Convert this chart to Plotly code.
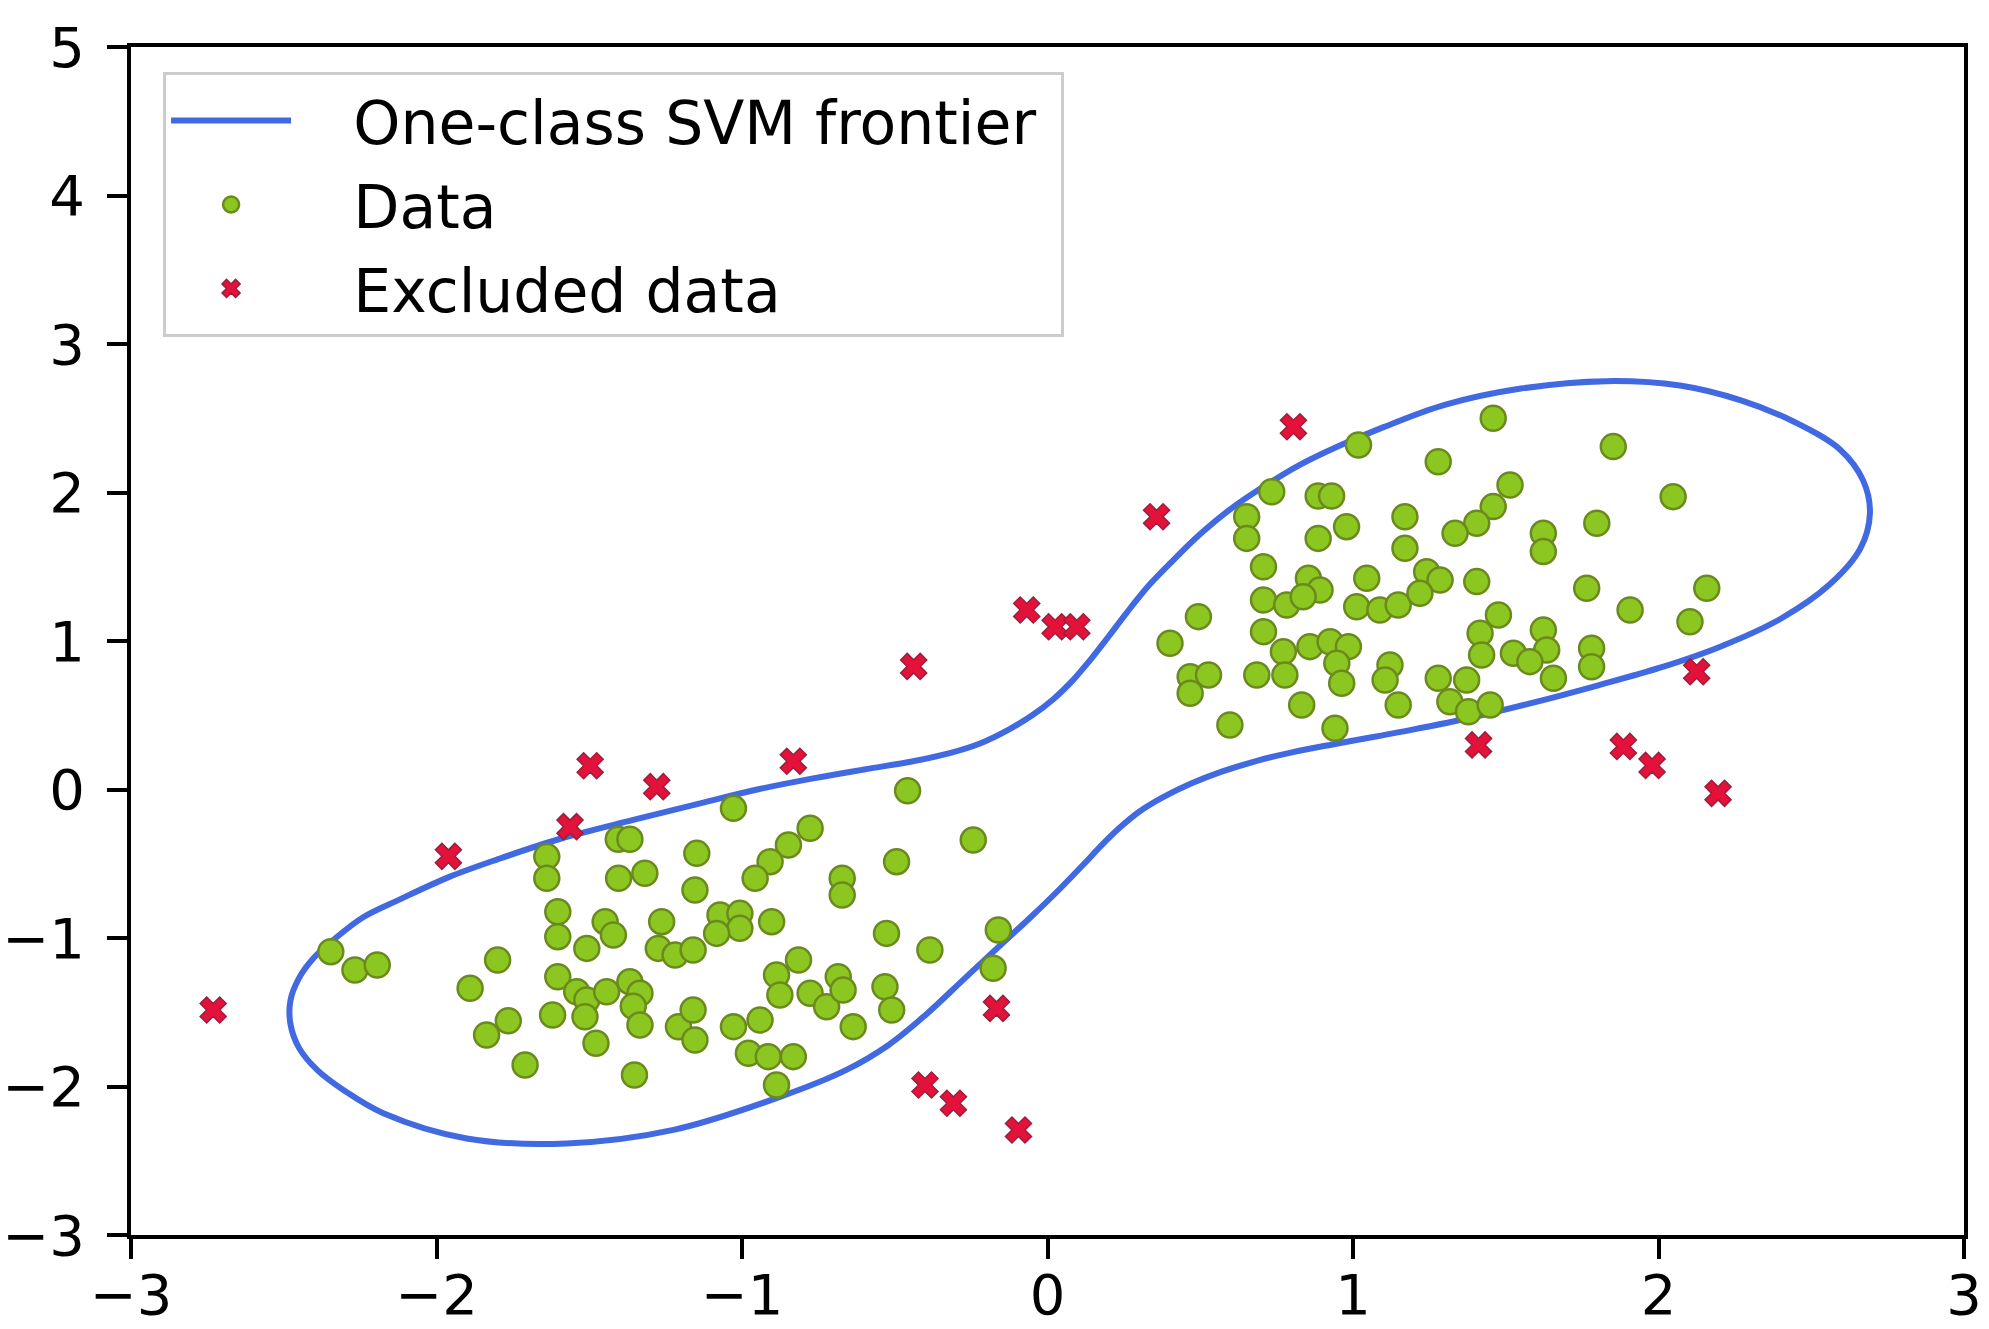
"""One-class SVM frontier with kept and excluded points, rebuilt in plotly.

Writes out.html
"""
import plotly.graph_objects as go

# inlier points (x, y)
data_x = [
    -2.346, -2.267, -2.194, -1.800, -1.890, -1.765, -1.836, -1.710, -1.639, -1.639,
    -1.405, -1.367, -1.404, -1.318, -1.148, -1.154, -1.603, -1.603, -1.448, -1.421,
    -1.508, -1.263, -1.274, -1.219, -1.160, -1.603, -1.541, -1.508, -1.443, -1.367,
    -1.334, -1.620, -1.514, -1.356, -1.334, -1.478, -1.352, -1.208, -1.160, -1.154,
    -0.458, -1.028, -0.777, -0.848, -0.908, -0.957, -0.672, -0.672, -0.494, -0.243,
    -1.072, -1.007, -1.007, -1.083, -0.903, -0.527, -0.385, -0.161, -0.178, -0.815,
    -0.887, -0.876, -0.777, -0.723, -0.685, -0.669, -0.636, -0.532, -0.510, -1.028,
    -0.941, -0.979, -0.914, -0.832, -0.887,
    1.018, 0.734, 0.886, 0.930, 0.652, 0.652, 0.979, 0.886, 0.707, 0.854,
    0.892, 0.707, 0.783, 0.837, 1.045, 1.012, 1.088, 1.148, 0.494, 0.401,
    0.707, 0.772, 0.685, 0.777, 0.859, 0.925, 0.985, 0.947, 0.963, 1.121,
    1.105, 1.148, 0.467, 0.527, 0.467, 0.832, 0.597, 0.941,
    1.459, 1.852, 1.279, 1.514, 1.459, 1.405, 1.334, 1.170, 1.170, 1.623,
    1.623, 1.798, 1.241, 1.285, 1.219, 1.405, 1.765, 1.907, 1.476, 1.416,
    1.421, 1.525, 1.623, 1.634, 1.579, 1.781, 1.781, 1.656, 1.279, 1.372,
    1.317, 1.378, 1.449, 2.048, 2.158, 2.103,
]
data_y = [
    -1.092, -1.215, -1.182, -1.148, -1.339, -1.557, -1.653, -1.855, -0.452, -0.598,
    -0.335, -0.335, -0.598, -0.564, -0.430, -0.677, -0.823, -0.991, -0.890, -0.980,
    -1.070, -0.890, -1.070, -1.115, -1.081, -1.261, -1.362, -1.418, -1.362, -1.294,
    -1.372, -1.519, -1.530, -1.460, -1.586, -1.709, -1.923, -1.598, -1.485, -1.687,
    -0.008, -0.127, -0.261, -0.374, -0.486, -0.598, -0.598, -0.711, -0.486, -0.340,
    -0.845, -0.834, -0.935, -0.969, -0.890, -0.969, -1.081, -0.946, -1.204, -1.148,
    -1.249, -1.384, -1.372, -1.463, -1.261, -1.350, -1.597, -1.328, -1.485, -1.597,
    -1.552, -1.776, -1.799, -1.799, -1.990,
    2.320, 2.005, 1.976, 1.976, 1.837, 1.691, 1.770, 1.691, 1.500, 1.422,
    1.343, 1.276, 1.242, 1.298, 1.422, 1.231, 1.209, 1.242, 1.164, 0.985,
    1.063, 0.928, 0.771, 0.771, 0.962, 0.995, 0.962, 0.850, 0.715, 0.838,
    0.737, 0.569, 0.760, 0.771, 0.648, 0.569, 0.434, 0.412,
    2.500, 2.309, 2.207, 2.051, 1.905, 1.793, 1.725, 1.837, 1.624, 1.725,
    1.602, 1.793, 1.467, 1.411, 1.321, 1.400, 1.355, 1.209, 1.175, 1.052,
    0.906, 0.917, 1.074, 0.939, 0.861, 0.951, 0.827, 0.749, 0.749, 0.737,
    0.591, 0.524, 0.569, 1.972, 1.355, 1.130,
]

# points left outside the frontier
excluded_x = [-2.731, -1.961, -1.563, -1.497, -1.279, -0.832, -0.438, -0.068, 0.025, 0.096,
              0.357, 0.805, -0.167, -0.401, -0.308, -0.095, 1.411, 1.885, 1.979, 2.125, 2.195]
excluded_y = [-1.485, -0.450, -0.250, 0.160, 0.019, 0.190, 0.829, 1.209, 1.096, 1.096,
              1.837, 2.443, -1.474, -1.990, -2.113, -2.293, 0.300, 0.290, 0.162, 0.793, -0.026]

# frontier outline, traced clockwise; starts mid-edge so the closing join stays smooth
frontier_x = [-1.356, -1.137, -0.950, -0.767, -0.600, -0.440, -0.320, -0.221, -0.130, -0.050,
              0.020, 0.085, 0.139, 0.200, 0.259, 0.330, 0.412, 0.500, 0.600, 0.700,
              0.820, 0.950, 1.100, 1.300, 1.550, 1.830, 2.070, 2.270, 2.450, 2.594,
              2.670, 2.692, 2.660, 2.560, 2.400, 2.200, 2.005, 1.800, 1.590, 1.400,
              1.187, 0.950, 0.800, 0.680, 0.570, 0.470, 0.380, 0.300, 0.235, 0.175,
              0.120, 0.040, -0.050, -0.150, -0.270, -0.400, -0.520, -0.660, -0.876, -1.220,
              -1.574, -1.901, -2.174, -2.300, -2.390, -2.450, -2.478, -2.478, -2.450, -2.400,
              -2.330, -2.240, -2.120, -1.960, -1.800, -1.600, -1.356]
frontier_y = [-0.205, -0.093, 0.000, 0.075, 0.135, 0.190, 0.245, 0.310, 0.400, 0.500,
              0.610, 0.740, 0.870, 1.030, 1.190, 1.370, 1.545, 1.720, 1.890, 2.030,
              2.180, 2.310, 2.440, 2.590, 2.700, 2.750, 2.720, 2.620, 2.470, 2.290,
              2.080, 1.860, 1.620, 1.380, 1.150, 0.960, 0.820, 0.700, 0.585, 0.490,
              0.400, 0.310, 0.250, 0.190, 0.120, 0.040, -0.050, -0.150, -0.260, -0.380,
              -0.500, -0.670, -0.850, -1.040, -1.270, -1.520, -1.720, -1.890, -2.070, -2.290,
              -2.383, -2.350, -2.180, -2.030, -1.890, -1.740, -1.580, -1.420, -1.270, -1.130,
              -1.000, -0.860, -0.740, -0.590, -0.470, -0.335, -0.205]

x_ticks = [-3, -2, -1, 0, 1, 2, 3]
y_ticks = [-3, -2, -1, 0, 1, 2, 3, 4, 5]

FONT = "DejaVu Sans"
PAD = "\u00a0\u00a0\u00a0"  # extra room between legend symbol and label

fig = go.Figure()
fig.add_trace(go.Scatter(
    x=frontier_x, y=frontier_y, mode="lines", name=PAD + "One-class SVM frontier\u00a0",
    line=dict(color="#4169e1", width=6, shape="spline", smoothing=1.0),
    legendgroup="a",
))
fig.add_trace(go.Scatter(
    x=data_x, y=data_y, mode="markers", name=PAD + "Data",
    marker=dict(symbol="circle", size=25, color="#8cc620",
                line=dict(color="#6b8a1e", width=2.5)),
    legendgroup="b",
))
fig.add_trace(go.Scatter(
    x=excluded_x, y=excluded_y, mode="markers", name=PAD + "Excluded data",
    marker=dict(symbol="x", size=23, color="#e4123a",
                line=dict(color="#9a1f3c", width=1.5)),
    legendgroup="c",
))

axis_common = dict(
    showgrid=False, zeroline=False, showline=True, linecolor="black", linewidth=4,
    mirror=True, ticks="outside", ticklen=20, tickwidth=4, tickcolor="black",
    tickfont=dict(family=FONT, size=56, color="black"), automargin=False,
)
fig.update_xaxes(range=[-3, 3], tickvals=x_ticks, ticklabelstandoff=-12, **axis_common)
fig.update_yaxes(range=[-3, 5], tickvals=y_ticks, ticklabelstandoff=11, **axis_common)

fig.update_layout(
    width=1989, height=1329,
    margin=dict(l=131, r=25, t=47, b=94),
    paper_bgcolor="white", plot_bgcolor="white",
    font=dict(family=FONT, size=60, color="black"),
    legend=dict(
        x=0.0175, y=0.979, xanchor="left", yanchor="top",
        bgcolor="white", bordercolor="#cccccc", borderwidth=3,
        font=dict(family=FONT, size=60, color="black"),
        itemwidth=120, tracegroupgap=3, traceorder="grouped",
    ),
)

# drop the page's default body margin so the figure sits at the window corner
fig.write_html("out.html", config={"displayModeBar": False},
               post_script="document.body.style.margin='0';")
